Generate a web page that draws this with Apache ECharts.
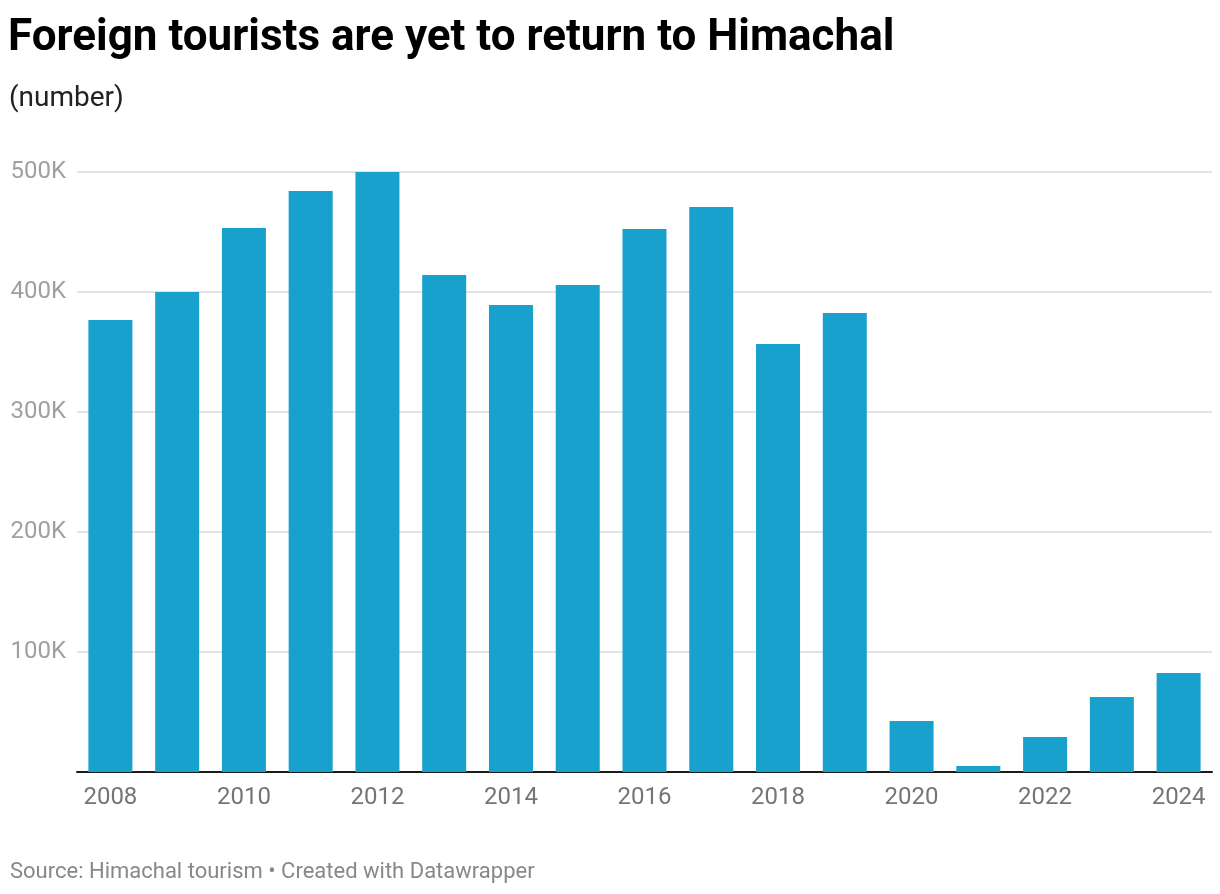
<!DOCTYPE html>
<html>
<head>
<meta charset="utf-8">
<script src="https://cdn.jsdelivr.net/npm/echarts@6/dist/echarts.min.js"></script>
<style>
html,body{margin:0;padding:0;background:#fff;}
#chart{width:1220px;height:894px;}
</style>
</head>
<body>
<div id="chart"></div>
<script>
const years = ['2008','2009','2010','2011','2012','2013','2014','2015','2016','2017','2018','2019','2020','2021','2022','2023','2024'];
const tourists = [376700, 400000, 453300, 484200, 500000, 414200, 389200, 405800, 452500, 470800, 356700, 382500, 42500, 5000, 29200, 62500, 82500];
const yTicks = [0, 100000, 200000, 300000, 400000, 500000];

const chart = echarts.init(document.getElementById('chart'), null, {renderer: 'canvas'});
chart.setOption({
  animation: false,
  backgroundColor: '#ffffff',
  textStyle: {fontFamily: 'Roboto'},
  title: [
    {text: 'Foreign tourists are yet to return to Himachal', left: 8, top: 17, padding: 0,
     textStyle: {fontFamily: 'Roboto', fontWeight: 'bold', fontSize: 44, color: '#000'}},
    {text: '(number)', left: 9, top: 85, padding: 0,
     textStyle: {fontFamily: 'Roboto', fontWeight: 'normal', fontSize: 28, color: '#222'}},
    {text: 'Source: Himachal tourism \u2022 Created with Datawrapper', left: 10, top: 861, padding: 0,
     textStyle: {fontFamily: 'Roboto', fontWeight: 'normal', fontSize: 22, color: '#888'}}
  ],
  grid: {left: 77, right: 8, top: 172, bottom: 122, containLabel: false},
  xAxis: {
    type: 'category',
    data: years,
    axisLine: {lineStyle: {color: '#1a1a1a', width: 2}},
    axisTick: {show: false},
    axisLabel: {interval: 1, color: '#757575', fontSize: 24, margin: 14, fontFamily: 'Roboto'}
  },
  yAxis: {
    type: 'value',
    min: yTicks[0],
    max: yTicks[yTicks.length - 1],
    interval: 100000,
    axisLine: {show: false},
    axisTick: {show: false},
    splitLine: {lineStyle: {color: '#e3e3e3', width: 2}},
    axisLabel: {
      color: '#a0a0a0', fontSize: 24, margin: 11, fontFamily: 'Roboto',
      formatter: v => v === 0 ? '' : (v / 1000) + 'K'
    }
  },
  series: [{
    type: 'bar',
    data: tourists,
    barWidth: 44,
    itemStyle: {color: '#18a1cd'}
  }]
});
</script>
</body>
</html>
